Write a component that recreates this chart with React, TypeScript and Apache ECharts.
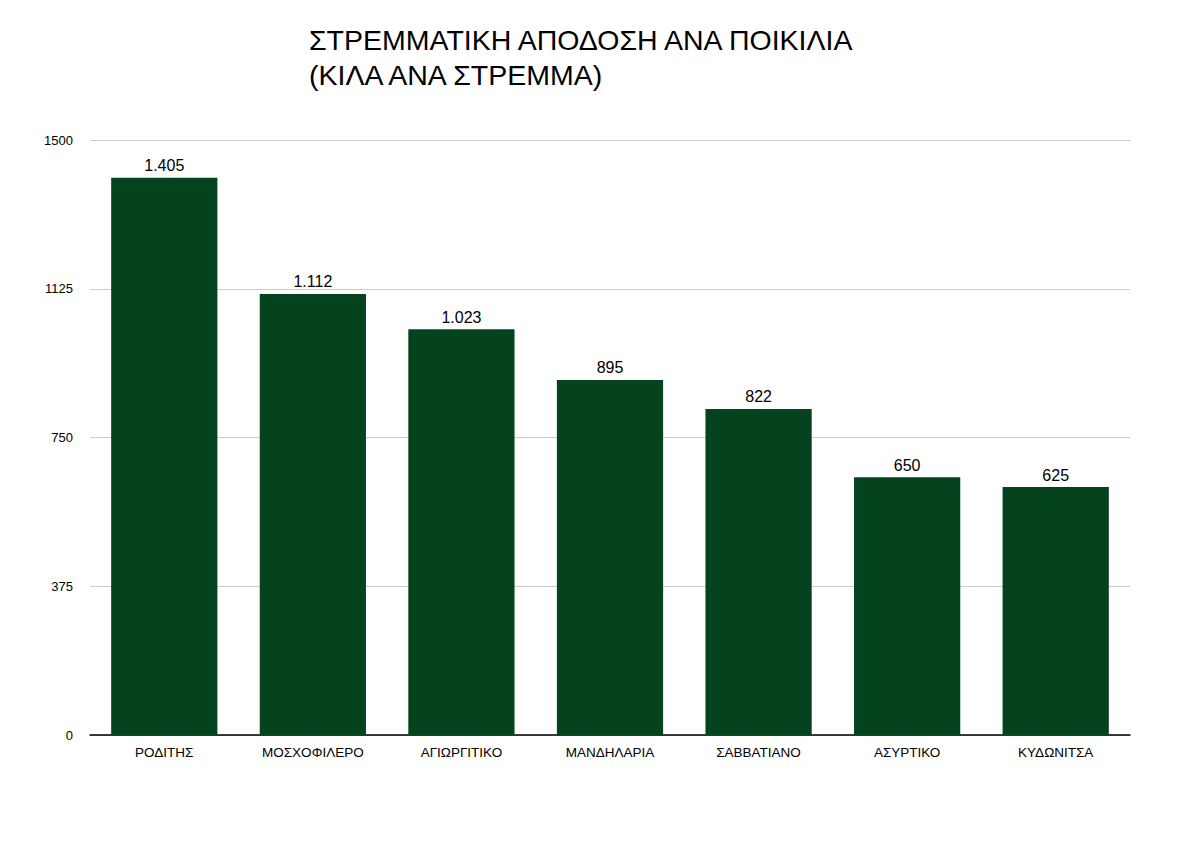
import React, { useRef, useEffect } from 'react';
import * as echarts from 'echarts';

const varieties = [
  'ΡΟΔΙΤΗΣ',
  'ΜΟΣΧΟΦΙΛΕΡΟ',
  'ΑΓΙΩΡΓΙΤΙΚΟ',
  'ΜΑΝΔΗΛΑΡΙΑ',
  'ΣΑΒΒΑΤΙΑΝΟ',
  'ΑΣΥΡΤΙΚΟ',
  'ΚΥΔΩΝΙΤΣΑ',
];
const yieldPerStremma = [1405, 1112, 1023, 895, 822, 650, 625];

const FONT = '"Liberation Sans", Arial, Helvetica, sans-serif';

// Greek style grouping: 1405 -> 1.405
const formatGreek = (v: number) =>
  String(v).replace(/\B(?=(\d{3})+(?!\d))/g, '.');

const App: React.FC = () => {
  const chartRef = useRef<HTMLDivElement>(null);

  useEffect(() => {
    if (!chartRef.current) return;
    const chart = echarts.init(chartRef.current, undefined, { renderer: 'svg' });

    const options: echarts.EChartsOption = {
      animation: false,
      textStyle: { fontFamily: FONT },
      title: {
        text: 'ΣΤΡΕΜΜΑΤΙΚΗ ΑΠΟΔΟΣΗ ΑΝΑ ΠΟΙΚΙΛΙΑ\n(ΚΙΛΑ ΑΝΑ ΣΤΡΕΜΜΑ)',
        left: 304,
        top: 17,
        textStyle: {
          fontFamily: FONT,
          fontSize: 28.5,
          fontWeight: 'normal',
          color: '#000',
          lineHeight: 35,
        },
      },
      grid: { left: 90, right: 62, top: 140, bottom: 110 },
      xAxis: {
        type: 'category',
        data: varieties,
        axisLine: { lineStyle: { color: '#000', width: 1.5 } },
        axisTick: { show: false },
        axisLabel: { color: '#000', fontSize: 13.5, margin: 10 },
      },
      yAxis: {
        type: 'value',
        min: 0,
        max: 1500,
        interval: 375,
        axisLine: { show: false },
        axisTick: { show: false },
        axisLabel: {
          color: '#000',
          fontSize: 13,
          margin: 17,
          formatter: (v: number) => String(v),
        },
        splitLine: { lineStyle: { color: '#cccccc', width: 1 } },
      },
      series: [
        {
          type: 'bar',
          data: yieldPerStremma,
          barWidth: '71.5%',
          itemStyle: { color: '#04431d' },
          label: {
            show: true,
            position: 'top',
            distance: 4,
            color: '#000',
            fontSize: 16,
            formatter: (p: any) => formatGreek(p.value as number),
          },
        },
      ],
    };

    chart.setOption(options);
    return () => {
      chart.dispose();
    };
  }, []);

  return (
    <div
      ref={chartRef}
      style={{ position: 'fixed', left: 0, top: 0, width: 1192, height: 845, background: '#fff' }}
    />
  );
};

export default App;
